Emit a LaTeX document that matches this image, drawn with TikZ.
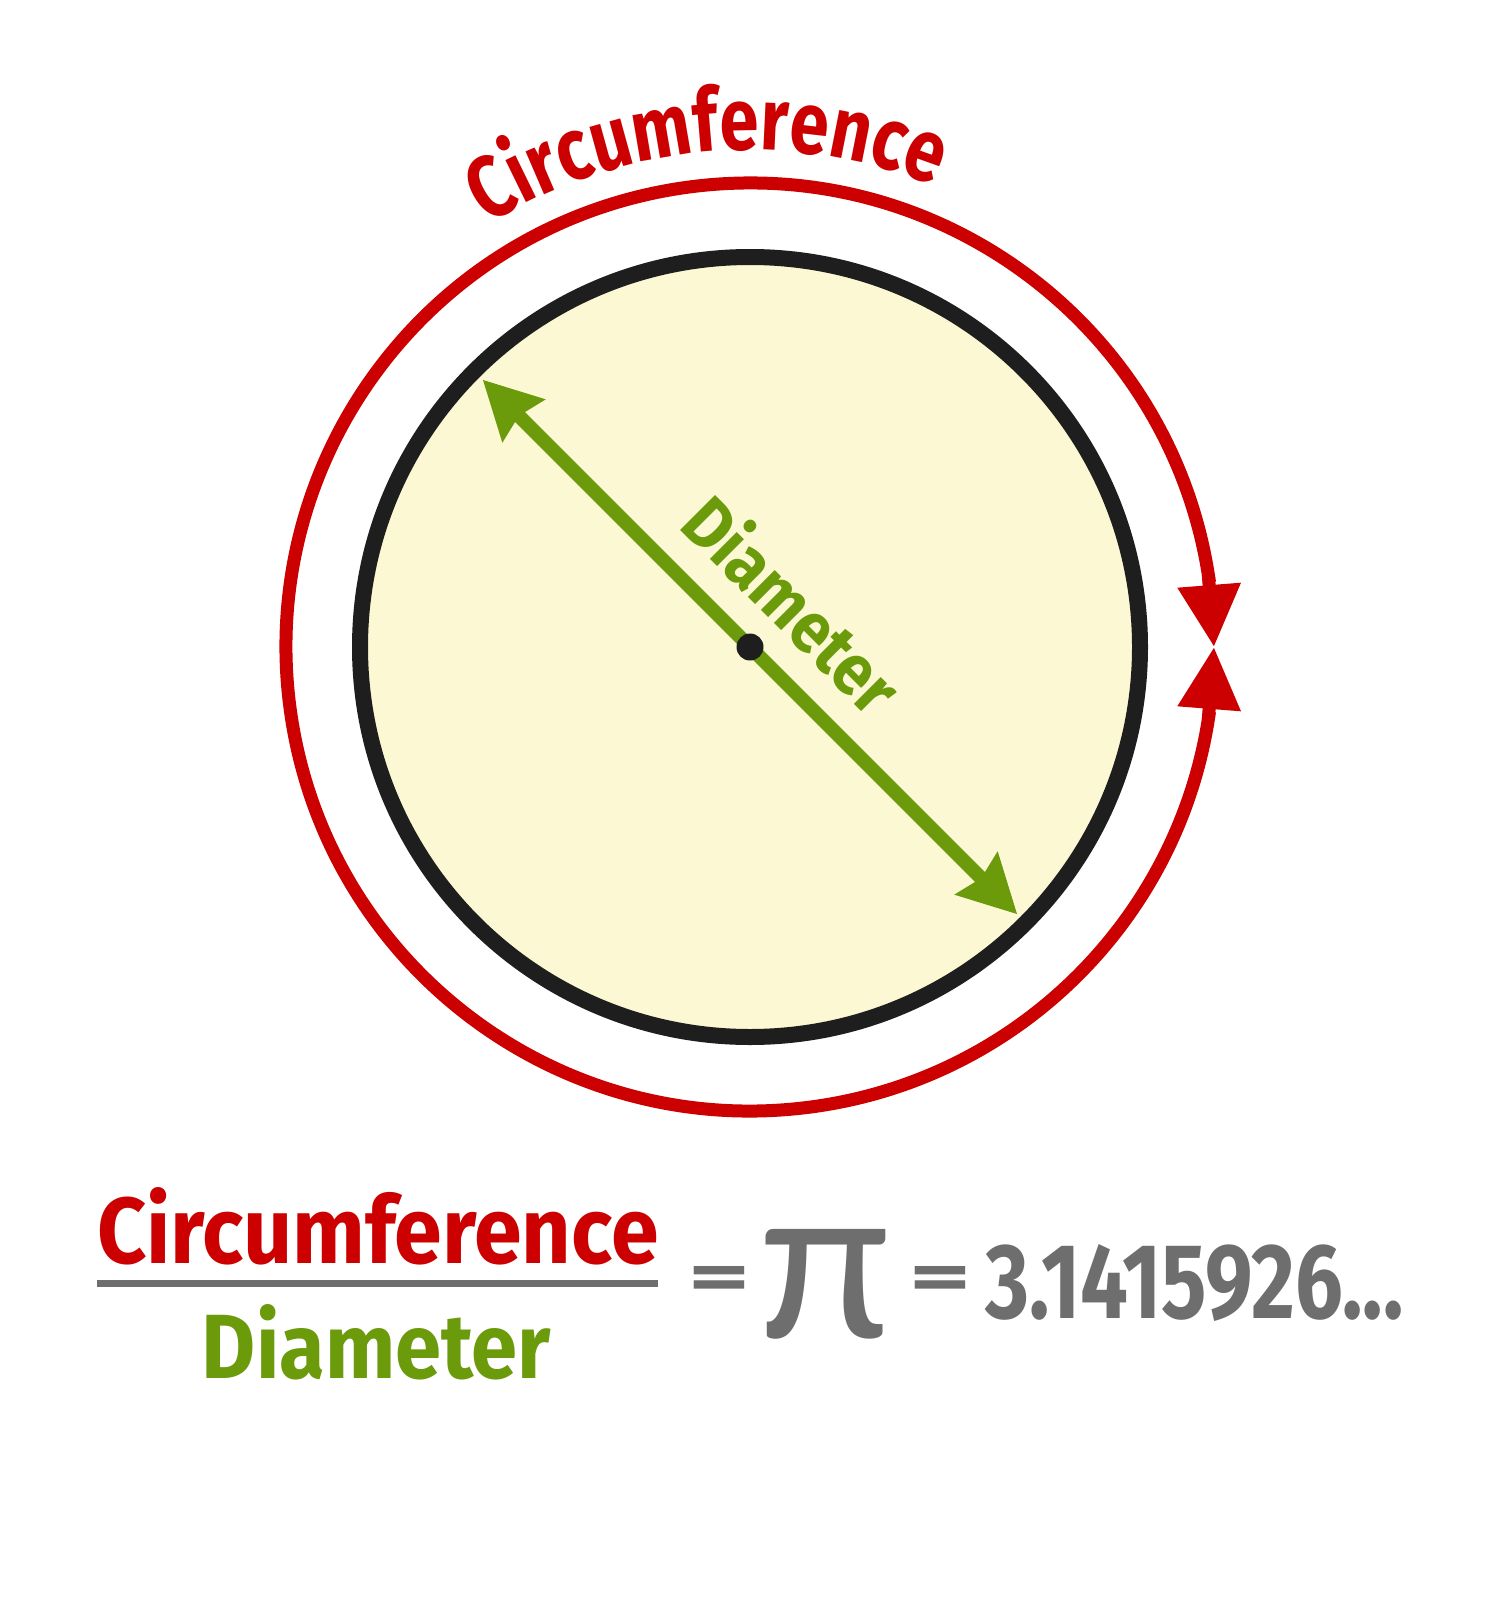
\documentclass[tikz,border=0pt]{standalone}
\usepackage{fontspec}
\setmainfont{Fira Sans}
\newfontfamily\cf[FakeStretch=0.75]{Fira Sans}
\newfontfamily\cfc[FakeStretch=0.8]{Fira Sans}
\newfontfamily\pifont{Carlito}
\usetikzlibrary{arrows.meta,decorations.text,calc}
\definecolor{cred}{HTML}{CC0000}
\definecolor{cgreen}{HTML}{6B9A0A}
\definecolor{cgray}{HTML}{6E6E6E}
\definecolor{cfill}{HTML}{FDF8D4}
\definecolor{cblack}{HTML}{1E1E1E}
\begin{document}
\begin{tikzpicture}[x=1pt,y=1pt,
  redarc/.style={draw=cred, line width=13pt},
  redtip/.style={-{Triangle[width=60pt,length=62pt]}},
  greenline/.style={draw=cgreen, line width=14pt},
  greentips/.style={{Stealth[width=58pt,length=57pt,inset=6pt]}-{Stealth[width=58pt,length=57pt,inset=6pt]}},
  lbl/.style={inner sep=0pt, outer sep=0pt}]
\useasboundingbox (0,0) rectangle (1500,-1600);
\fill[white] (0,0) rectangle (1500,-1600);
\coordinate (C) at (750,-647);
% disk
\node[circle, draw=cblack, line width=16pt, fill=cfill, minimum size=780pt, inner sep=0pt] (disk) at (C) {};
% circumference arc with two arrows meeting on the right
\coordinate (meet) at ($(C)+(0:464pt)$);
\coordinate (up) at ($(C)+(9:464pt)$);
\coordinate (dn) at ($(C)+(-9:464pt)$);
\draw[redarc] ($(C)+(8:464pt)$) arc[start angle=8, end angle=352, radius=464pt];
\draw[redarc, redtip] (up) -- (meet);
\draw[redarc, redtip] (dn) -- (meet);
% diameter arrow
\coordinate (A) at ($(C)+(135:378pt)$);
\coordinate (B) at ($(C)+(-45:378pt)$);
\draw[greenline, greentips] (A) -- (B);
\node[circle, fill=cblack, minimum size=27pt, inner sep=0pt] (ctr) at (C) {};
\node[lbl, text=cgreen, rotate=-45] (dlabel) at ($(C)+(45:62pt)$) {\resizebox{272pt}{58pt}{\cf\bfseries Diameter}};
% curved label
\path[decorate, decoration={text along path, text align=center, text color=cred,
  text={|\cfc\bfseries\fontsize{88pt}{88pt}\selectfont|Circumference}}]
  ($(C)+(131:497pt)$) arc[start angle=131, end angle=59, radius=497pt];
% formula
\node[lbl, text=cred, anchor=south west] (numer) at (97,-1265) {\resizebox{561pt}{76pt}{\cf\bfseries Circumference}};
\node[fill=cgray, minimum width=561pt, minimum height=7pt, inner sep=0pt] (bar) at (377.5,-1283) {};
\node[lbl, text=cgreen, anchor=south] (denom) at (376.5,-1380) {\resizebox{349pt}{74pt}{\cf\bfseries Diameter}};
\node[lbl, text=cgray] (eq1) at (719.5,-1283) {\resizebox{62pt}{34pt}{\cf\bfseries =}};
\node[lbl, text=cgray] (pi) at (825.5,-1284.5) {\resizebox{128pt}{109pt}{\pifont π}};
\node[lbl, text=cgray] (eq2) at (940.5,-1283) {\resizebox{62pt}{34pt}{\cf\bfseries =}};
\node[lbl, text=cgray, anchor=south west] (val) at (985,-1321) {\resizebox{418pt}{74pt}{\cf\bfseries 3.1415926...}};
\end{tikzpicture}
\end{document}
